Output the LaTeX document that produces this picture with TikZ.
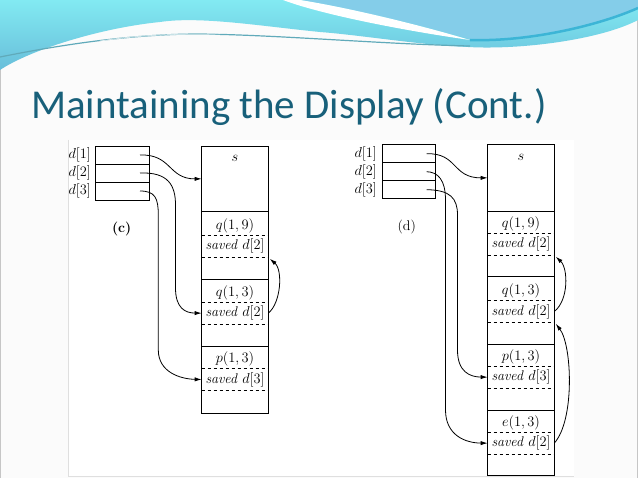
\documentclass[tikz,border=0pt]{standalone}
\usepackage{fontspec}
\newfontfamily\titlefont{Carlito}
\usetikzlibrary{arrows.meta}
\definecolor{cyanT}{RGB}{130,234,242}
\definecolor{cyanB}{RGB}{104,190,218}
\definecolor{blueR}{RGB}{132,205,233}
\definecolor{stripC}{RGB}{60,181,214}
\definecolor{lineC}{RGB}{96,170,186}
\definecolor{titleC}{RGB}{24,96,122}
\definecolor{slideBg}{RGB}{251,251,251}
\newcommand\figfont{\fontsize{14}{16}\selectfont}
\tikzset{
  frame/.style={draw, line width=0.8pt, minimum width=66.6pt, inner sep=0pt, outer sep=0pt},
  cellbox/.style={draw, line width=0.8pt, minimum width=53.6pt, minimum height=18pt, inner sep=0pt, outer sep=0pt},
  slot/.style={minimum width=66.6pt, inner sep=0pt, outer sep=0pt, font=\figfont},
  lbl/.style={inner sep=0pt, font=\figfont},
  ptr/.style={line width=0.8pt, -{Latex[length=7pt,width=4.2pt]}},
  dsh/.style={line width=0.8pt, dash pattern=on 3.5pt off 2.5pt}
}
\begin{document}
\begin{tikzpicture}[x=1pt,y=-1pt]
\useasboundingbox (0,0) rectangle (638,478);
% slide background
\fill[slideBg] (0,0) rectangle (638,478);
\fill[white] (68,140) rectangle (574,476.5);
\draw[gray!25, line width=0.8pt] (68,140) -- (68,476.5) -- (574,476.5);
\draw[gray!45, line width=0.8pt] (0.4,0) -- (0.4,478) (637.6,0) -- (637.6,478);
% header waves
\shade[top color=cyanT, bottom color=cyanB]
  (0,0) -- (638,0) -- (638,20) .. controls (600,40) and (520,50) .. (468,47)
  .. controls (420,45) and (360,35) .. (320,32)
  .. controls (260,26) and (200,16) .. (160,22)
  .. controls (100,28) and (30,50) .. (0,70) -- cycle;
\fill[blueR] (300,0) -- (638,0) -- (638,8) .. controls (600,25) and (530,42) .. (470,39)
  .. controls (420,25) and (350,8) .. (300,0) -- cycle;
\fill[white] (283,0) .. controls (320,14) and (400,30) .. (470,40)
  .. controls (420,25) and (350,8) .. (300,0) -- cycle;
\draw[stripC, line width=2.5pt] (470,40) .. controls (530,42) and (600,25) .. (638,8);
\draw[lineC, line width=1.2pt] (0,57) .. controls (60,45) and (130,34) .. (200,34)
  .. controls (280,35) and (380,44) .. (470,46);
\draw[white, line width=0.5pt] (100,41) .. controls (140,35) and (170,34) .. (220,34);
% title
\node[anchor=base west, inner sep=0pt, font=\titlefont\fontsize{41}{48}\selectfont, text=titleC]
  (title) at (31,119) {Maintaining the Display (Cont.)};

% ================= figure (c) =================
\node[cellbox] (ca1) at (122.5,155) {};
\node[cellbox] (ca2) at (122.5,173) {};
\node[cellbox] (ca3) at (122.5,191) {};
\node[lbl, anchor=east] (cl1) at (91,155) {$d[1]$};
\node[lbl, anchor=east] (cl2) at (91,173) {$d[2]$};
\node[lbl, anchor=east] (cl3) at (91,191) {$d[3]$};
\node[lbl] (ctag) at (121.7,229) {\textbf{(c)}};

\node[frame, minimum height=65.7pt] (cs) at (235,178.85) {};
\node[lbl] (csl) at (235,158) {$s$};
\node[frame, minimum height=67.6pt] (cf1) at (235,245.5) {};
\node[lbl] (cq1) at (235,226) {$q(1,9)$};
\node[slot, minimum height=22.3pt] (c1s) at (235,246.15) {\textit{saved} $d[2]$};
\node[frame, minimum height=66.7pt] (cf2) at (235,312.65) {};
\node[lbl] (cq2) at (235,293) {$q(1,3)$};
\node[slot, minimum height=21.7pt] (c2s) at (235,313.15) {\textit{saved} $d[2]$};
\node[frame, minimum height=67.3pt] (cf3) at (235,379.65) {};
\node[lbl] (cq3) at (235,359.3) {$p(1,3)$};
\node[slot, minimum height=22.4pt] (c3s) at (235,379.5) {\textit{saved} $d[3]$};
\foreach \n in {c1s,c2s,c3s}{
  \draw[dsh] (\n.north west) -- (\n.north east) (\n.south west) -- (\n.south east);
}
\draw[ptr] ([xshift=17.5pt]ca1.center) .. controls (172,154) and (168,179) .. (cs.west);
\draw[ptr] ([xshift=17.5pt]ca2.center) .. controls (168,172) and (175.5,185) .. (175.5,205)
  -- (175.5,288) .. controls (175.5,308) and (185,313) .. (c2s.west);
\draw[ptr] ([xshift=17.5pt]ca3.center) .. controls (155,191) and (158.3,198) .. (158.3,215)
  -- (158.3,350) .. controls (158.3,372) and (180,379) .. (c3s.west);
\draw[ptr] (c2s.east) .. controls (281,303) and (283,270) .. ([shift={(1.5,1.5)}]c1s.south east);

% ================= figure (d) =================
\node[cellbox] (da1) at (408.7,153.7) {};
\node[cellbox] (da2) at (408.7,171.7) {};
\node[cellbox] (da3) at (408.7,189.7) {};
\node[lbl, anchor=east] (dl1) at (377,153.7) {$d[1]$};
\node[lbl, anchor=east] (dl2) at (377,171.7) {$d[2]$};
\node[lbl, anchor=east] (dl3) at (377,189.7) {$d[3]$};
\node[lbl] (dtag) at (406.7,227.3) {(d)};

\node[frame, minimum height=66.3pt] (ds) at (521,177.85) {};
\node[lbl] (dsl) at (521,157.3) {$s$};
\node[frame, minimum height=65.7pt] (df1) at (521,243.85) {};
\node[lbl] (dq1) at (521,224.3) {$q(1,9)$};
\node[slot, minimum height=22pt] (d1s) at (521,244.3) {\textit{saved} $d[2]$};
\node[frame, minimum height=67.6pt] (df2) at (521,310.5) {};
\node[lbl] (dq2) at (521,290.7) {$q(1,3)$};
\node[slot, minimum height=21.6pt] (d2s) at (521,311.5) {\textit{saved} $d[2]$};
\node[frame, minimum height=65.7pt] (df3) at (521,377.15) {};
\node[lbl] (dq3) at (521,357.3) {$p(1,3)$};
\node[slot, minimum height=22.3pt] (d3s) at (521,377.15) {\textit{saved} $d[3]$};
\node[frame, minimum height=65pt] (df4) at (521,442.5) {};
\node[lbl] (dq4) at (521,423.3) {$e(1,3)$};
\node[slot, minimum height=21.7pt] (d4s) at (521,443.15) {\textit{saved} $d[2]$};
\foreach \n in {d1s,d2s,d3s,d4s}{
  \draw[dsh] (\n.north west) -- (\n.north east) (\n.south west) -- (\n.south east);
}
\draw[ptr] ([xshift=18pt]da1.center) .. controls (458,153) and (452,178) .. (ds.west);
\draw[ptr] ([xshift=18pt]da2.center) .. controls (438,172) and (445.5,180) .. (445.5,200)
  -- (445.5,410) .. controls (445.5,435) and (465,443) .. (d4s.west);
\draw[ptr] ([xshift=18pt]da3.center) .. controls (450,190) and (457.5,198) .. (457.5,215)
  -- (457.5,350) .. controls (457.5,372) and (470,377) .. (d3s.west);
\draw[ptr] (d2s.east) .. controls (569,300) and (568,268) .. ([shift={(1.5,1.5)}]d1s.south east);
\draw[ptr] (d4s.east) .. controls (575,420) and (572,345) .. ([shift={(1.5,1.5)}]d2s.south east);
\end{tikzpicture}
\end{document}
